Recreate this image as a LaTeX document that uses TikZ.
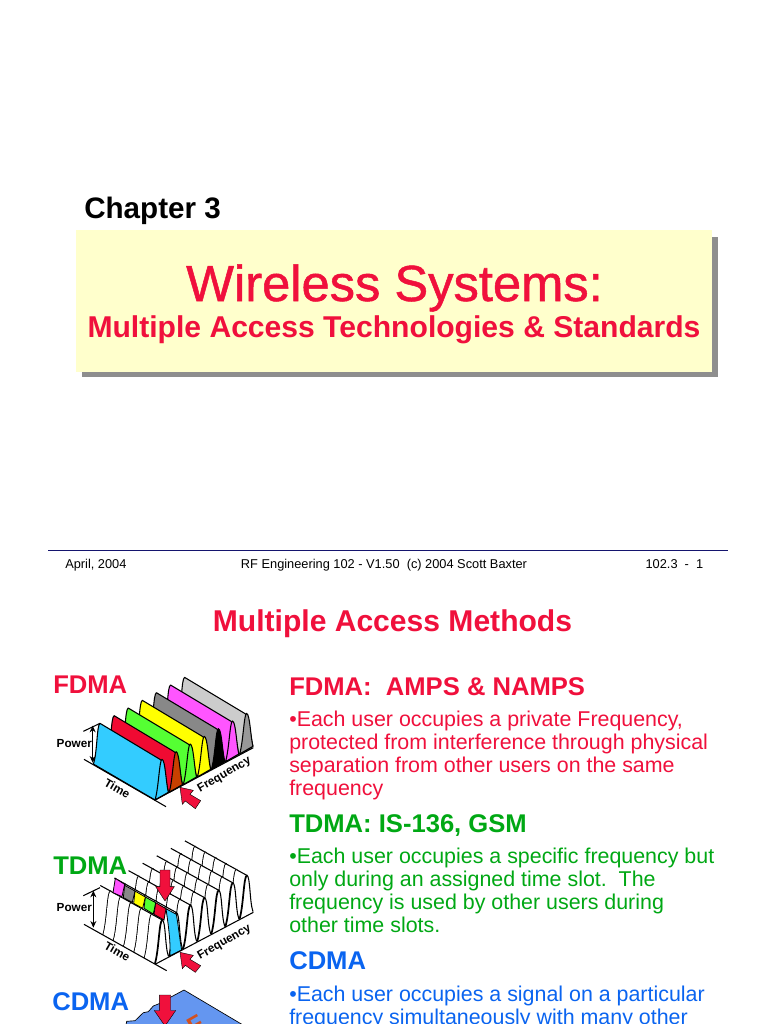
\documentclass[tikz,border=0pt]{standalone}
\usepackage{fontspec}
\usetikzlibrary{arrows.meta}
\setmainfont{Liberation Sans}
\newfontfamily\heavyfont[FakeBold=1.0]{Liberation Sans}
\definecolor{rd}{HTML}{F0103C}
\definecolor{gn}{HTML}{00A814}
\definecolor{bl}{HTML}{0A64F0}
\definecolor{boxy}{HTML}{FFFFCC}
\definecolor{shad}{HTML}{8E8E8E}
\definecolor{navy}{HTML}{14146E}
\definecolor{wblue}{HTML}{33CCFF}
\definecolor{wred}{HTML}{F00A32}
\definecolor{worange}{HTML}{C84000}
\definecolor{wgreen}{HTML}{55FF33}
\definecolor{wyel}{HTML}{FFFF00}
\definecolor{wgray}{HTML}{888888}
\definecolor{wmag}{HTML}{FF55FF}
\definecolor{wlg}{HTML}{CCCCCC}
\definecolor{cdm}{HTML}{6496F0}
\definecolor{cdt}{HTML}{D2501E}
\newcommand{\fs}[1]{\fontsize{#1}{#1}\selectfont}
\tikzset{
  txt/.style={inner sep=0pt,anchor=base west},
  ftr/.style={inner sep=0pt,anchor=base,font=\fs{9.6},text=black},
  body/.style={inner sep=0pt,anchor=base west,font=\fs{16.05}},
  head/.style={inner sep=0pt,anchor=base west,font=\fs{19.2}\bfseries},
  lab/.style={inner sep=0pt,font=\fs{8.8}\bfseries,text=black},
  axis/.style={draw=black,line width=0.8pt},
  dbl/.style={draw=black,line width=0.8pt,{Stealth[length=5pt,width=4.5pt]}-{Stealth[length=5pt,width=4.5pt]}},
  redarrow/.style={fill=rd,draw=black,line width=0.3pt},
  slot/.style={draw=black,line width=0.6pt}
}
% FDMA ridge: index, body colour, face colour
\newcommand{\ridge}[3]{%
  \begin{scope}[shift={({#1*42.3},{-#1*23})}]
    \filldraw[fill=#2,draw=black,line width=0.8pt,line join=round]
      (160,312) .. controls (172,280) and (170,195) .. (180,190) -- (360,298)
      .. controls (372,300) and (378,370) .. (385,397) -- (345,420) -- cycle;
    \filldraw[fill=#3,draw=black,line width=0.8pt,line join=round]
      (345,420) .. controls (356,385) and (358,300) .. (366,298)
      .. controls (376,300) and (378,370) .. (385,397) -- cycle;
  \end{scope}}
% TDMA hump: frequency i, time slot j
\newcommand{\hump}[2]{%
  \begin{scope}[shift={({345+#1*42.3-#2*31},{415-#1*22.3-#2*17.3})}]
    \fill[white] (0,0) .. controls (12,-40) and (12,-128) .. (22,-130) -- (-9,-147)
       .. controls (-19,-145) and (-19,-57) .. (-31,-17) -- cycle;
    \draw[black,line width=0.8pt] (22,-130) -- (-9,-147);
    \fill[white] (0,0) .. controls (12,-40) and (12,-128) .. (22,-130)
      .. controls (32,-128) and (30,-50) .. (40,-22) -- cycle;
    \draw[black,line width=1.3pt,line cap=round] (0,0) .. controls (12,-40) and (12,-128) .. (22,-130);
    \draw[black,line width=0.8pt,line cap=round] (22,-130) .. controls (32,-128) and (30,-50) .. (40,-22);
  \end{scope}}
\begin{document}
\begin{tikzpicture}[x=0.75pt,y=-0.75pt]
\useasboundingbox (0,0) rectangle (768,1024);
\fill[white] (0,0) rectangle (768,1024);
% title slide
\node[txt,font=\fs{22.2}\bfseries] (chap) at (84,218) {Chapter 3};
\fill[shad] (82,237) rectangle (718,377);
\node[fill=boxy,draw=none,inner sep=0pt,minimum width=636*0.75pt,minimum height=142*0.75pt,anchor=north west] (box) at (76,230) {};
\node[inner sep=0pt,anchor=base,font=\fs{38}\heavyfont,text=rd] (title) at (394.5,301) {Wireless Systems:};
\node[inner sep=0pt,anchor=base,font=\fs{22.56}\bfseries,text=rd] (sub) at (394,337) {Multiple Access Technologies \& Standards};
\draw[navy,line width=0.6pt] (48,550) -- (728,550);
\node[ftr,anchor=base west] (f1) at (65,568) {April, 2004};
\node[ftr] (f2) at (384,568) {RF Engineering 102 - V1.50\ \ (c) 2004 Scott Baxter};
\node[ftr,anchor=base east] (f3) at (703.5,568) {102.3\ \ -\ \ 1};
% second slide
\node[inner sep=0pt,anchor=base,font=\fs{22.55}\bfseries,text=rd] (t2) at (392.5,631) {Multiple Access Methods};
\node[head,text=rd] (lf) at (53,693) {FDMA};
\node[head,text=gn] (lt) at (53,874) {TDMA};
\node[head,text=bl] (lc) at (52,1010) {CDMA};
\node[head,text=rd] (hf) at (289,695) {FDMA:\ \ AMPS \& NAMPS};
\node[body,text=rd] (b1) at (289,726) {•Each user occupies a private Frequency,};
\node[body,text=rd] (b2) at (289,749.5) {protected from interference through physical};
\node[body,text=rd] (b3) at (289,772.5) {separation from other users on the same};
\node[body,text=rd] (b4) at (289,795.5) {frequency};
\node[head,text=gn] (ht) at (289,832) {TDMA: IS-136, GSM};
\node[body,text=gn] (c1) at (289,863.5) {•Each user occupies a specific frequency but};
\node[body,text=gn] (c2) at (289,886.5) {only during an assigned time slot.\ \ The};
\node[body,text=gn] (c3) at (289,909.5) {frequency is used by other users during};
\node[body,text=gn] (c4) at (289,932.5) {other time slots.};
\node[head,text=bl] (hc) at (289,969) {CDMA};
\node[body,text=bl] (d1) at (289,1001) {•Each user occupies a signal on a particular};
\node[body,text=bl] (d2) at (289,1024) {frequency simultaneously with many other};
% FDMA figure (coordinates of a 3x enlargement)
\begin{scope}[shift={(40,660)},x=0.25pt,y=-0.25pt]
  \ridge{6}{wlg}{wlg!75!black}
  \ridge{5}{wmag}{wmag}
  \ridge{4}{wgray}{black}
  \ridge{3}{wyel}{wyel}
  \ridge{2}{wgreen}{wgreen}
  \ridge{1}{wred}{worange}
  \ridge{0}{wblue}{wblue}
  \draw[axis] (132,298) -- (378,440);
  \draw[axis] (345,420) -- (640,263);
  \draw[axis] (130,214) -- (180,190);
  \draw[dbl] (158,197) -- (158,308);
  \node[lab] (pf) at (103,252) {Power};
  \node[lab,rotate=-30] (tf) at (232,385) {Time};
  \node[lab,rotate=30] (qf) at (553,345) {Frequency};
  \filldraw[redarrow] (420,382) -- (460,391) -- (450,403) -- (482,422) -- (466,446) -- (436,423) -- (427,433) -- cycle;
\end{scope}
% TDMA figure
\begin{scope}[shift={(40,825)},x=0.25pt,y=-0.25pt]
  \foreach \i in {6,5,...,0}{
    \foreach \j in {5,4,...,0}{\hump{\i}{\j}}
  }
  \filldraw[slot,fill=wblue] (378,251) -- (409,268) .. controls (415,300) and (420,350) .. (425,375) -- (390,392) .. controls (392,350) and (385,300) .. (378,251);
  \filldraw[slot,fill=wred] (347,233) -- (378,251) -- (372,285) -- (342,268) -- cycle;
  \filldraw[slot,fill=wgreen] (316,216) -- (347,233) -- (340,267) -- (312,250) -- cycle;
  \filldraw[slot,fill=wyel] (285,198) -- (316,216) -- (308,250) -- (281,235) -- cycle;
  \filldraw[slot,fill=wgray] (254,181) -- (285,198) -- (277,232) -- (250,218) -- cycle;
  \filldraw[slot,fill=wmag] (226,160) -- (254,178) -- (246,215) -- (219,203) -- cycle;
  \draw[axis] (132,298) -- (380,437);
  \draw[axis] (345,418) -- (640,262);
  \draw[axis] (130,212) -- (180,188);
  \draw[dbl] (160,197) -- (160,308);
  \node[lab] (pt) at (103,248) {Power};
  \node[lab,rotate=-30] (tt) at (232,380) {Time};
  \node[lab,rotate=30] (qt) at (553,352) {Frequency};
  \filldraw[redarrow] (420,382) -- (460,391) -- (450,403) -- (482,422) -- (466,442) -- (436,421) -- (427,431) -- cycle;
  \filldraw[redarrow] (360,135) -- (390,135) -- (390,185) -- (403,185) -- (375,228) -- (347,185) -- (360,185) -- cycle;
\end{scope}
% CDMA figure
\filldraw[fill=cdm,draw=black,line width=0.5pt,line join=round] (126,1025) -- (126.7,1021.3) -- (135,1020.7) -- (143.3,1012.7) -- (148.3,1011.7) -- (153.3,1006) -- (160,1003.3) -- (166.7,999.3) -- (184,990) -- (243,1025);
\node[inner sep=0pt,font=\fs{18}\bfseries,text=cdt,rotate=30] (cf) at (195.5,1025) {F};
\filldraw[redarrow] (159.3,995) -- (170.7,995) -- (170.7,1010.5) -- (175.7,1010.5) -- (165,1026) -- (154.3,1010.5) -- (159.3,1010.5) -- cycle;
\end{tikzpicture}
\end{document}
